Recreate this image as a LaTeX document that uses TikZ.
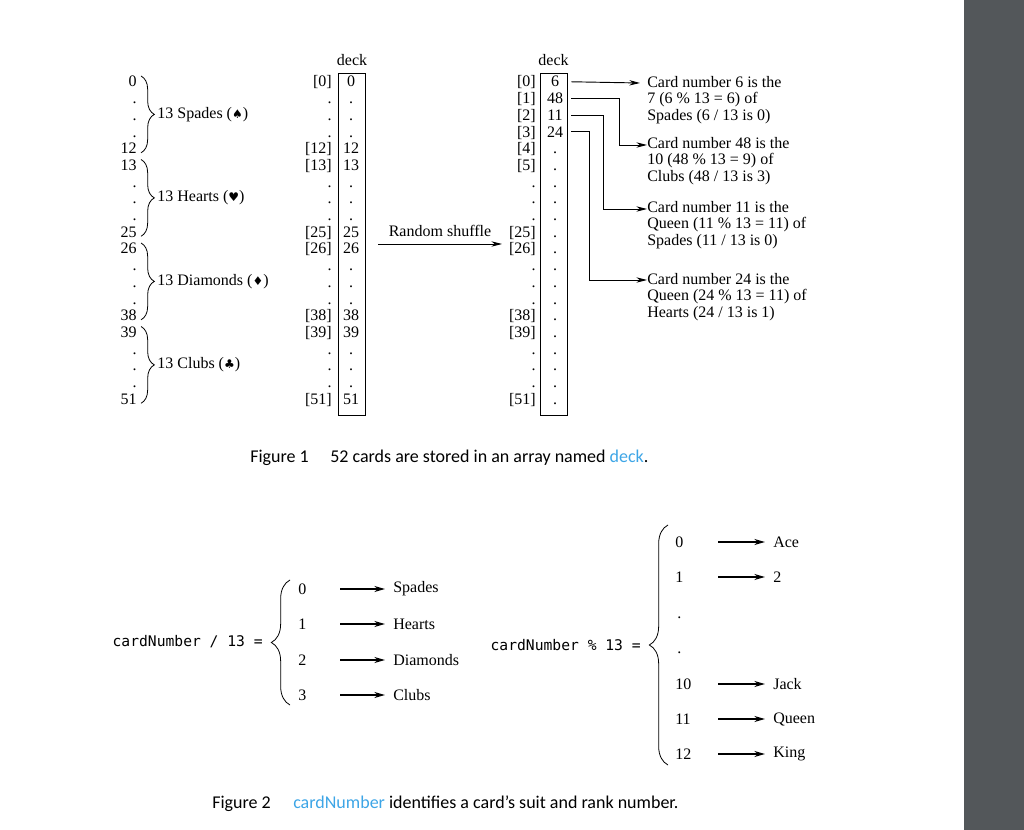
\documentclass[tikz,border=0pt]{standalone}
\usepackage{fontspec}
\setmainfont{Liberation Serif}
\setmonofont{DejaVu Sans Mono}
\newfontfamily\capfont{Carlito}
\newfontfamily\symfont{DejaVu Sans}
\usetikzlibrary{positioning,arrows.meta,decorations.pathreplacing}
\definecolor{linkblue}{HTML}{3DA5E6}
\definecolor{sidebar}{HTML}{53575A}
\tikzset{
  txt/.style={inner sep=0pt, font=\fontsize{12}{12.4}\selectfont},
  num/.style={txt, anchor=base east},
  val/.style={txt, anchor=base},
  code/.style={inner sep=0pt, anchor=east, font=\ttfamily\fontsize{11}{13}\selectfont},
  figcap/.style={inner sep=0pt, anchor=base west, font=\capfont\fontsize{13.5}{16}\selectfont},
  arr/.style={-{Stealth[length=8pt,width=4pt]}, line width=0.7pt},
  arrb/.style={-{Stealth[length=8pt,width=4.5pt]}, line width=1.1pt, shorten >=6pt},
  brc/.style={decorate, decoration={brace, amplitude=#1}, line width=0.6pt}
}
\newcommand{\rowc}[1]{83+16.7*#1}
\begin{document}
\begin{tikzpicture}[x=0.75pt, y=-0.75pt]
  \useasboundingbox (0,0) rectangle (1024,830);
  \fill[sidebar] (964,0) rectangle (1024,830);

  % figure 1, sorted deck
  \foreach \r/\t/\b in {0/0/[0], 1/./., 2/./., 3/./., 4/12/[12], 5/13/[13], 6/./., 7/./., 8/./., 9/25/[25],
      10/26/[26], 11/./., 12/./., 13/./., 14/38/[38], 15/39/[39], 16/./., 17/./., 18/./., 19/51/[51]} {
    \node[num] (n\r) at (137,{\rowc{\r}+4}) {\t};
    \node[num] (li\r) at (332,{\rowc{\r}+4}) {\b};
    \node[val] (lv\r) at (351,{\rowc{\r}+4}) {\t};
  }
  \node[draw, line width=0.6pt, minimum width=27*0.75pt, minimum height=342*0.75pt, inner sep=0pt] (lbox) at (352,244) {};
  \node[txt, above=5pt of lbox] (ldeck) {deck};
  \foreach \a/\b/\s in {0/4/Spades ({\symfont\small ♠}), 5/9/Hearts ({\symfont\small ♥}),
      10/14/Diamonds ({\symfont\small ♦}), 15/19/Clubs ({\symfont\small ♣})} {
    \draw[brc=10pt] (141,{\rowc{\a}-7}) -- (141,{\rowc{\b}+3})
      node[txt, midway, right=12pt] (g\a) {13 \s};
  }

  % shuffle
  \coordinate (sh1) at (378,244);
  \coordinate (sh2) at (502,244);
  \draw[arr] (sh1) -- (sh2) node[txt, midway, above=5pt] (shuf) {Random shuffle};

  % figure 1, shuffled deck
  \foreach \r/\b in {0/[0], 1/[1], 2/[2], 3/[3], 4/[4], 5/[5], 6/., 7/., 8/., 9/[25],
      10/[26], 11/., 12/., 13/., 14/[38], 15/[39], 16/., 17/., 18/., 19/[51]} {
    \node[num] (ri\r) at (536,{\rowc{\r}+4}) {\b};
  }
  \foreach \r/\t in {0/6, 1/48, 2/11, 3/24, 4/., 5/., 6/., 7/., 8/., 9/., 10/., 11/., 12/., 13/.,
      14/., 15/., 16/., 17/., 18/., 19/.} {
    \node[val] (rv\r) at (555,{\rowc{\r}+4}) {\t};
  }
  \node[draw, line width=0.6pt, minimum width=27*0.75pt, minimum height=342*0.75pt, inner sep=0pt] (rbox) at (553.5,244) {};
  \node[txt, above=5pt of rbox] (rdeck) {deck};

  \node[txt, anchor=north west, align=left] (c0) at (647,76) {Card number 6 is the\\7 (6 \% 13 = 6) of\\Spades (6 / 13 is 0)};
  \node[txt, anchor=north west, align=left] (c1) at (647,137) {Card number 48 is the\\10 (48 \% 13 = 9) of\\Clubs (48 / 13 is 3)};
  \node[txt, anchor=north west, align=left] (c2) at (647,201) {Card number 11 is the\\Queen (11 \% 13 = 11) of\\Spades (11 / 13 is 0)};
  \node[txt, anchor=north west, align=left] (c3) at (647,273) {Card number 24 is the\\Queen (24 \% 13 = 11) of\\Hearts (24 / 13 is 1)};
  \coordinate (k0) at (640,83);
  \coordinate (k1) at (619,145);
  \coordinate (k2) at (603,209);
  \coordinate (k3) at (589,280);
  \draw[arr] ([xshift=3pt]rbox.east |- rv0) -- (k0);
  \draw[arr] ([xshift=3pt]rbox.east |- rv1) -| (k1) -- (c1.west |- k1);
  \draw[arr] ([xshift=3pt]rbox.east |- rv2) -| (k2) -- (c2.west |- k2);
  \draw[arr] ([xshift=3pt]rbox.east |- rv3) -| (k3) -- (c3.west |- k3);

  \node[figcap] (fig1) at (250,462) {Figure 1};
  \node[figcap] (cap1) at (330,462) {52 cards are stored in an array named \textcolor{linkblue}{deck}.};

  % figure 2, suit
  \node[code] (div) at (263,642) {cardNumber / 13 =};
  \draw[brc=14pt] (290,705) -- (290,580);
  \foreach \r/\y/\s in {0/589/Spades, 1/624/Hearts, 2/660/Diamonds, 3/695/Clubs} {
    \node[txt, anchor=west] (d\r) at (298,\y) {\r};
    \node[txt, anchor=west] (s\r) at (393,\y) {\s};
    \coordinate (p\r) at (340,\y);
    \draw[arrb] (p\r) -- (s\r.west);
  }

  % figure 2, rank
  \node[code] (mod) at (641,645) {cardNumber \% 13 =};
  \draw[brc=14pt] (668,765) -- (668,525);
  \foreach \r/\y/\s in {0/542/Ace, 1/577/2, 10/684/Jack, 11/719/Queen, 12/754/King} {
    \node[txt, anchor=west] (m\r) at (675,\y) {\r};
    \node[txt, anchor=west] (q\r) at (773,\y) {\s};
    \coordinate (h\r) at (718,\y);
    \draw[arrb] (h\r) -- (q\r.west);
  }
  \node[txt, anchor=base west] (dot1) at (677,618) {.};
  \node[txt, anchor=base west] (dot2) at (677,653) {.};

  \node[figcap] (fig2) at (212,808) {Figure 2};
  \node[figcap] (cap2) at (293,808) {\textcolor{linkblue}{cardNumber} identifies a card’s suit and rank number.};
\end{tikzpicture}
\end{document}
